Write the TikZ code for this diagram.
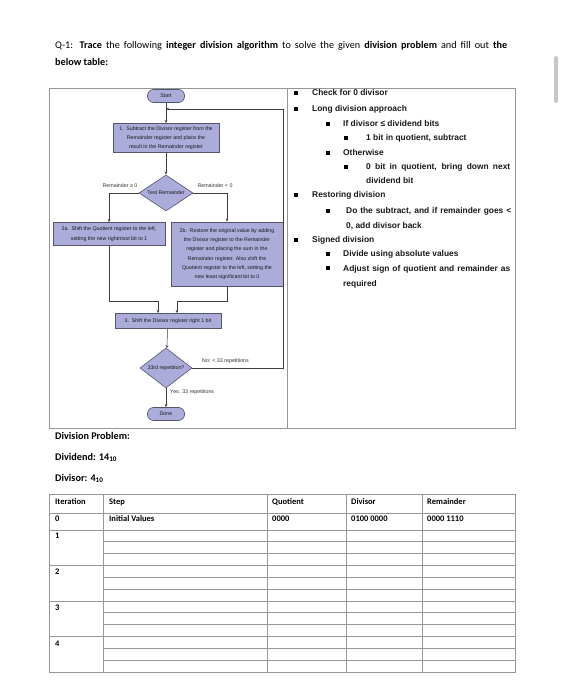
\documentclass[tikz,border=0pt]{standalone}
\usepackage{fontspec}
\setmainfont{Carlito}
\newfontfamily\arialf{Liberation Sans}
\usetikzlibrary{shapes.geometric,arrows.meta}
\definecolor{lav}{RGB}{172,172,218}
\definecolor{fbd}{RGB}{85,85,110}
\definecolor{tline}{RGB}{150,150,150}
\begin{document}
\begin{tikzpicture}[x=1pt,y=-1pt,
 fc/.style={draw=fbd, fill=lav, line width=0.6pt, font=\arialf\fontsize{5.3}{9.3}\selectfont, align=center, inner sep=1pt, text=black!90},
 procbox/.style={fc, rectangle, minimum width=#1},
 term/.style={fc, rounded corners=6pt, minimum width=37pt, minimum height=13pt},
 dec/.style={fc, diamond, inner sep=0pt, aspect=2},
 flow/.style={draw=black!75, line width=0.5pt, -{Stealth[length=3.2pt,width=2.6pt]}},
 lbl/.style={font=\arialf\fontsize{5.3}{6}\selectfont, text=black!80, inner sep=0pt},
 bul/.style={font=\arialf\bfseries\fontsize{8.4}{10}\selectfont, anchor=base west, inner sep=0pt, text=black!90},
 body/.style={font=\fontsize{10.2}{12}\selectfont, anchor=base west, inner sep=0pt},
 cell/.style={font=\bfseries\fontsize{8.5}{10}\selectfont, anchor=base west, inner sep=0pt},
 frame/.style={draw=tline, line width=0.8pt},
 tl/.style={draw=tline, line width=0.9pt},
 sq/.style={fill=black}
]
\useasboundingbox (0,0) rectangle (565,700);
\fill[white] (0,0) rectangle (565,700);
% scrollbar
\fill[black!22, rounded corners=1.5pt] (554,56) rectangle (558,103);
% title
\node[body] (title1) at (55,49) {\makebox[452pt][s]{Q-1: \textbf{Trace} the following \textbf{integer division algorithm} to solve the given \textbf{division problem} and fill out \textbf{the}}};
\node[body] (title2) at (55,66) {\textbf{below table:}};
% frame
\draw[frame] (49,88) rectangle (515,428);
\draw[frame] (287,88) -- (287,428);
% flowchart
\node[term] (start) at (166,96) {Start};
\node[procbox=106pt, minimum height=29pt] (s1) at (166,138) {1.\enspace Subtract the Divisor register from the\\Remainder register and place the\\result in the Remainder register};
\node[dec, minimum width=54pt, minimum height=36pt] (t1) at (166,193) {Test Remainder};
\node[procbox=112pt, minimum height=23pt] (s2a) at (109,234) {2a.\enspace Shift the Quotient register to the left,\\setting the new rightmost bit to 1};
\node[procbox=112pt, minimum height=64pt] (s2b) at (227,254) {2b.\enspace Restore the original value by adding\\the Divisor register to the Remainder\\register and placing the sum in the\\Remainder register. Also shift the\\Quotient register to the left, setting the\\new least significant bit to 0};
\node[procbox=106pt, minimum height=15pt] (s3) at (168,321) {3.\enspace Shift the Divisor register right 1 bit};
\node[dec, minimum width=52pt, minimum height=40pt] (t2) at (166,368) {33rd repetition?};
\node[term] (done) at (166,414) {Done};
\coordinate (ja) at (158,301);
\coordinate (jb) at (177,301);
\coordinate (lpb) at (283,368);
\coordinate (lpt) at (283,109);
\coordinate (mg) at (166,109);
\draw[flow] (start) -- (s1);
\draw[flow] (s1) -- (t1);
\draw[flow] (t1.west) -| (s2a.north);
\draw[flow] (t1.east) -| (s2b.north);
\draw[flow] (s2a.south) |- (ja) -- (ja |- s3.north);
\draw[flow] (s2b.south) |- (jb) -- (jb |- s3.north);
\draw[flow] (s3) -- (t2);
\draw[flow] (t2) -- (done);
\draw[flow] (t2.east) -- (lpb) -- (lpt) -- (mg);
\node[lbl] (lge) at (120,186) {Remainder ≥ 0};
\node[lbl] (llt) at (215,186) {Remainder < 0};
\node[lbl, anchor=west] (lno) at (202,361) {No: < 33 repetitions};
\node[lbl, anchor=west] (lyes) at (170,392) {Yes: 33 repetitions};
% bullets
\foreach \bx/\by in {296/93,296/109,328/124,346/138,328/153,346/167,296/195,328/211,296/240,328/254,328/268}
  \fill[sq] (\bx-2.2,\by-2.2) rectangle (\bx+2.2,\by+2.2);
\node[bul] (b1) at (312,96) {Check for 0 divisor};
\node[bul] (b2) at (312,112) {Long division approach};
\node[bul] (b3) at (343,127) {If divisor ≤ dividend bits};
\node[bul] (b4) at (366,141) {1 bit in quotient, subtract};
\node[bul] (b5) at (343,156) {Otherwise};
\node[bul] (b6) at (366,170) {\makebox[144pt][s]{0 bit in quotient, bring down next}};
\node[bul] (b6b) at (366,184) {dividend bit};
\node[bul] (b7) at (312,198) {Restoring division};
\node[bul] (b8) at (346,214) {\makebox[165pt][s]{Do the subtract, and if remainder goes <}};
\node[bul] (b8b) at (346,229) {0, add divisor back};
\node[bul] (b9) at (312,243) {Signed division};
\node[bul] (b10) at (343,257) {Divide using absolute values};
\node[bul] (b11) at (343,271) {\makebox[167pt][s]{Adjust sign of quotient and remainder as}};
\node[bul] (b11b) at (343,286) {required};
% division problem
\node[body] (dp) at (55,439) {\textbf{Division Problem:}};
\node[body] (dd) at (55,460) {\textbf{Dividend: 14\textsubscript{10}}};
\node[body] (dv) at (55,481) {\textbf{Divisor: 4\textsubscript{10}}};
% table
\draw[tl] (49,494) rectangle (515,672);
\foreach \yy in {513,530,565.5,601,636.5} \draw[tl] (49,\yy) -- (515,\yy);
\foreach \yb in {530,565.5,601,636.5} {
  \draw[tl] (103,\yb+11.83) -- (515,\yb+11.83);
  \draw[tl] (103,\yb+23.67) -- (515,\yb+23.67);
}
\foreach \xx in {103,267,346,422} \draw[tl] (\xx,494) -- (\xx,672);
\node[cell] (h1) at (55,504) {Iteration};
\node[cell] (h2) at (109,504) {Step};
\node[cell] (h3) at (272,504) {Quotient};
\node[cell] (h4) at (351,504) {Divisor};
\node[cell] (h5) at (427,504) {Remainder};
\node[cell] (r0a) at (55,521) {0};
\node[cell] (r0b) at (109,521) {Initial Values};
\node[cell] (r0c) at (272,521) {0000};
\node[cell] (r0d) at (351,521) {0100 0000};
\node[cell] (r0e) at (427,521) {0000 1110};
\node[cell] (r1) at (55,538) {1};
\node[cell] (r2) at (55,574) {2};
\node[cell] (r3) at (55,610) {3};
\node[cell] (r4) at (55,646) {4};
\end{tikzpicture}
\end{document}
